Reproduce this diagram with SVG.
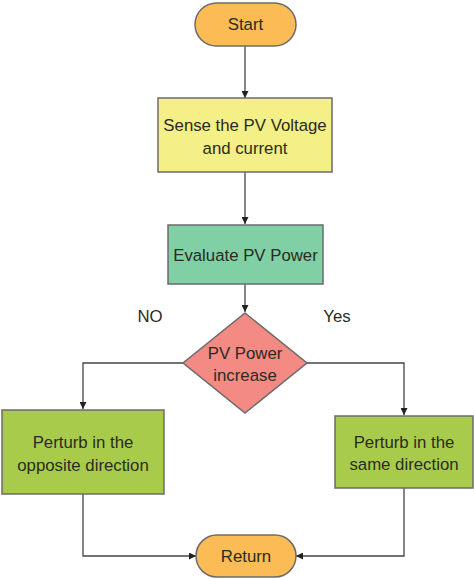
<svg xmlns="http://www.w3.org/2000/svg" width="474" height="579" viewBox="0 0 474 579">
<defs>
<style>
.t{font-family:"Liberation Sans",Arial,sans-serif;font-size:16.8px;fill:#2b2b1f;text-anchor:middle;dominant-baseline:central}
.n{stroke:#6b6b6b;stroke-width:1.5}
.c{fill:none;stroke:#444;stroke-width:1.3}
</style>
<marker id="a" viewBox="0 0 10 10" refX="10" refY="5" markerWidth="7" markerHeight="7" orient="auto" markerUnits="userSpaceOnUse">
<path d="M0,0 L10,5 L0,10 z" fill="#222"/>
</marker>
</defs>
<rect width="474" height="579" fill="#fff"/>
<g id="connectors">
<path class="c" d="M245,46 V98" marker-end="url(#a)"/>
<path class="c" d="M245,172 V224" marker-end="url(#a)"/>
<path class="c" d="M245,284 V312" marker-end="url(#a)"/>
<path class="c" d="M183,363 H83 V409" marker-end="url(#a)"/>
<path class="c" d="M307,363 H404 V415" marker-end="url(#a)"/>
<path class="c" d="M83,494 V556 H196" marker-end="url(#a)"/>
<path class="c" d="M404,488 V556 H296" marker-end="url(#a)"/>
</g>
<g id="start">
<rect class="n" x="195" y="3" width="101" height="43" rx="21.5" fill="#FBBC55" stroke="#b88a3a"/>
<text class="t" x="245.5" y="24.5">Start</text>
</g>
<g id="sense">
<rect class="n" x="158" y="98" width="174" height="74" fill="#F4EF86"/>
<text class="t" x="245" y="125">Sense the PV Voltage</text>
<text class="t" x="245" y="148">and current</text>
</g>
<g id="evaluate">
<rect class="n" x="168" y="225" width="155" height="59" fill="#80CFA5"/>
<text class="t" x="245.5" y="255">Evaluate PV Power</text>
</g>
<g id="labels">
<text class="t" x="150" y="316">NO</text>
<text class="t" x="337" y="316">Yes</text>
</g>
<g id="decision">
<polygon class="n" points="245,313 307,363 245,413 183,363" fill="#F38A84"/>
<text class="t" x="245" y="353">PV Power</text>
<text class="t" x="245" y="375">increase</text>
</g>
<g id="opposite">
<rect class="n" x="2" y="410" width="162" height="84" fill="#A9CB4C"/>
<text class="t" x="83" y="442">Perturb in the</text>
<text class="t" x="83" y="465">opposite direction</text>
</g>
<g id="same">
<rect class="n" x="335" y="416" width="138" height="72" fill="#A9CB4C"/>
<text class="t" x="404" y="442">Perturb in the</text>
<text class="t" x="404" y="464">same direction</text>
</g>
<g id="return">
<rect class="n" x="196" y="535" width="100" height="42" rx="21" fill="#FBBC55" stroke="#b88a3a"/>
<text class="t" x="246" y="556">Return</text>
</g>
</svg>
